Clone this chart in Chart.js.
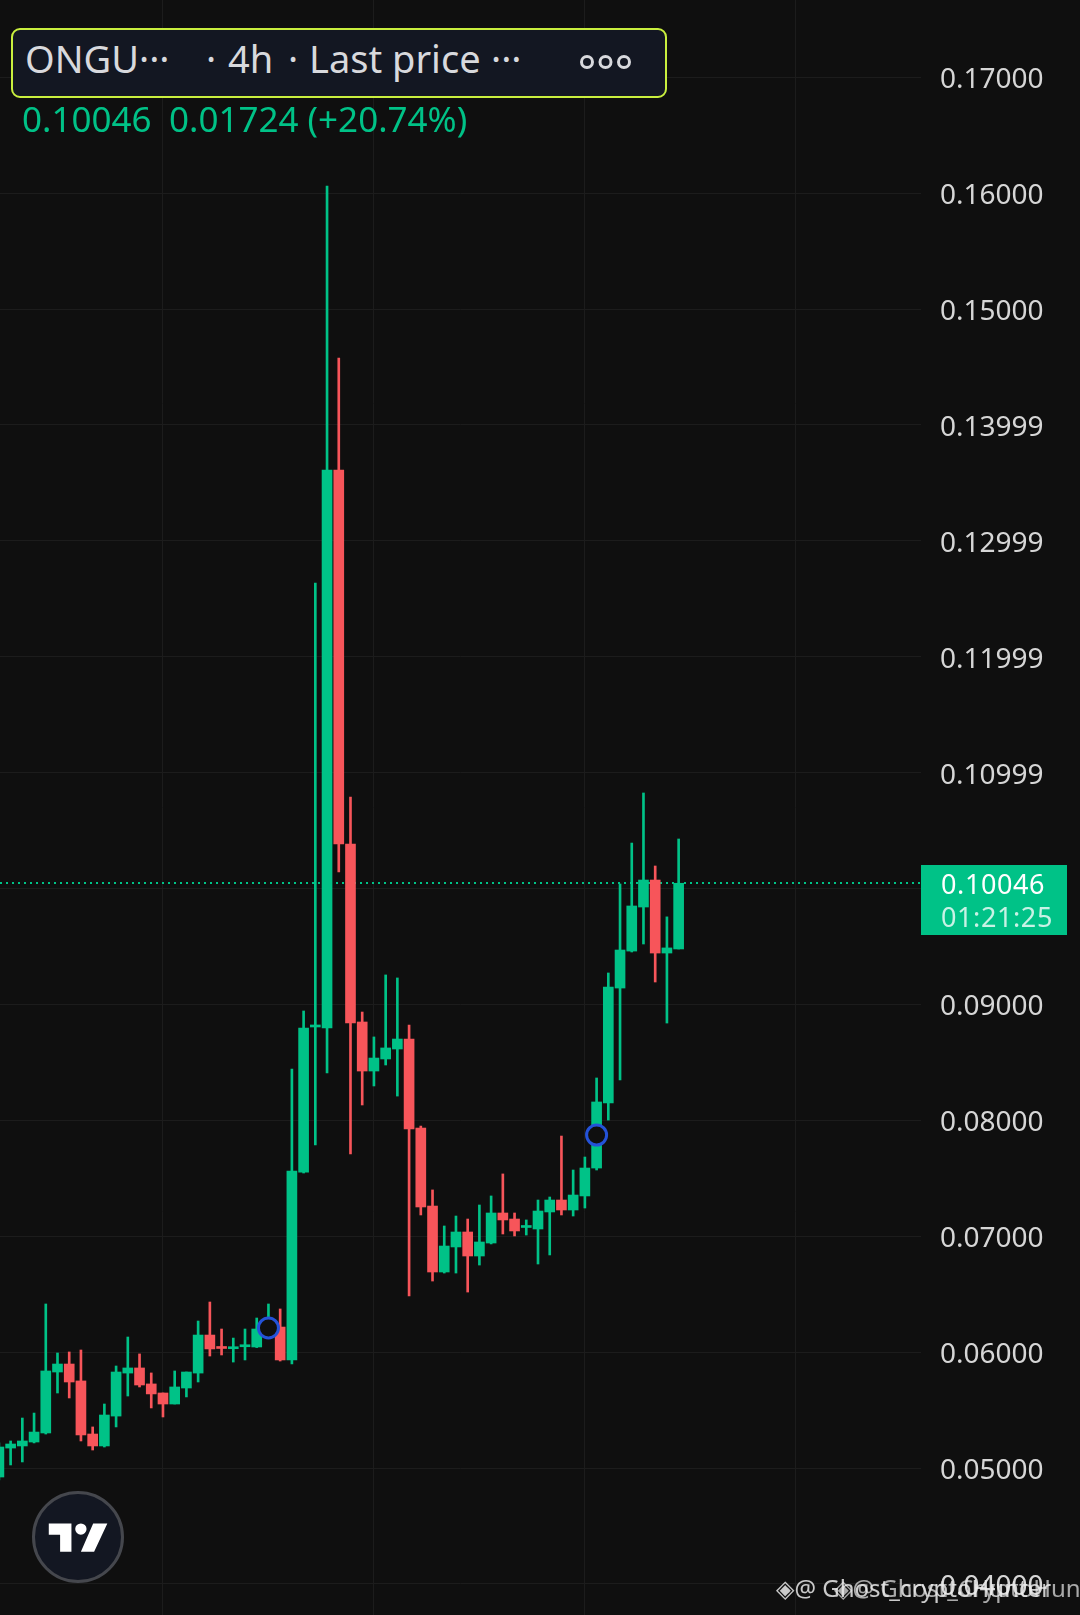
<!DOCTYPE html>
<html>
<head>
<meta charset="utf-8">
<script src="https://cdn.jsdelivr.net/npm/chart.js@4.4.1/dist/chart.umd.min.js"></script>
<style>
html,body{margin:0;padding:0;background:#0f0f0f;width:1080px;height:1615px;overflow:hidden;}
#wrap{position:absolute;left:0;top:0;width:1080px;height:1615px;}
.t{position:absolute;line-height:1;white-space:pre;font-family:"Noto Sans","DejaVu Sans",sans-serif;}
#hdr{position:absolute;left:11px;top:28px;width:656px;height:70px;box-sizing:border-box;border:2px solid #c9ef3e;border-radius:9px;background:#131722;}
#logo{position:absolute;left:32px;top:1491px;width:92px;height:92px;box-sizing:border-box;border:3px solid #45474d;border-radius:50%;background:#131722;}
</style>
</head>
<body>
<div id="wrap"><canvas id="c"></canvas></div>

<div id="hdr"></div>
<span class="t" style="left:25px;top:39px;font-size:38px;color:#d8d9dd">ONGU···</span>
<span class="t" style="left:206px;top:39px;font-size:38px;color:#d8d9dd">·</span>
<span class="t" style="left:228px;top:39px;font-size:38px;color:#d8d9dd">4h</span>
<span class="t" style="left:288px;top:39px;font-size:38px;color:#d8d9dd">·</span>
<span class="t" style="left:309px;top:39px;font-size:38px;color:#d8d9dd">Last price</span>
<span class="t" style="left:491px;top:39px;font-size:38px;color:#d8d9dd">···</span>
<svg style="position:absolute;left:578px;top:53px" width="56" height="18" viewBox="0 0 56 18">
  <g fill="none" stroke="#d8d9dd" stroke-width="3"><circle cx="9" cy="9" r="5.5"/><circle cx="27.5" cy="9" r="5.5"/><circle cx="46" cy="9" r="5.5"/></g>
</svg>
<span class="t" style="left:22px;top:101px;font-size:35px;color:#00c287">0.10046</span>
<span class="t" style="left:169px;top:101px;font-size:35px;color:#00c287">0.01724 (+20.74%)</span>

<div id="logo"></div>
<svg style="position:absolute;left:45px;top:1512px" width="68" height="53" viewBox="0 0 36 28">
  <path fill="#ffffff" d="M14 6H2v6h6v9h6V6Zm12 15h-7l6.5-15H33l-7 15Zm-7-9a3 3 0 1 0 0-6 3 3 0 0 0 0 6Z"/>
</svg>
<span class="t" style="left:776px;top:1576px;font-size:24px;color:rgba(235,235,235,0.85)">◈@ Ghost_cryptoHunter</span>
<span class="t" style="left:834px;top:1576px;font-size:24px;color:rgba(235,235,235,0.7)">◈@ Ghost_CryptoHunter</span>

<script>
// ---- data (4h candles) ----
const opens = [0.04923,0.05173,0.05191,0.05225,0.05303,0.05829,0.05898,0.05752,0.05294,0.05191,
0.05449,0.05820,0.05864,0.05726,0.05648,0.05553,0.05691,0.05820,0.06148,0.06040,
0.06030,0.06047,0.06045,0.06200,0.06217,0.05933,0.07554,0.08806,0.08797,0.13612,
0.10385,0.08849,0.08426,0.08530,0.08616,0.08702,0.07934,0.07261,0.06692,0.06908,
0.07037,0.06830,0.06942,0.07201,0.07149,0.07076,0.07063,0.07210,0.07313,0.07227,
0.07348,0.07589,0.08150,0.09142,0.09461,0.09841,0.10074,0.09444,0.09479];
const highs = [0.05217,0.05234,0.05432,0.05475,0.06416,0.05993,0.06002,0.06019,0.05355,0.05553,
0.05881,0.06131,0.05985,0.05821,0.05648,0.05838,0.05829,0.06269,0.06433,0.06200,
0.06122,0.06200,0.06295,0.06416,0.06373,0.08443,0.08944,0.12637,0.16062,0.14578,
0.10790,0.08935,0.08720,0.09255,0.09229,0.08823,0.07951,0.07400,0.07089,0.07175,
0.07149,0.07270,0.07348,0.07538,0.07201,0.07141,0.07313,0.07339,0.07865,0.07572,
0.07684,0.08366,0.09272,0.10040,0.10393,0.10825,0.10195,0.09756,0.10428];
const lows = [0.04897,0.05027,0.05053,0.05217,0.05294,0.05648,0.05605,0.05234,0.05156,0.05182,
0.05355,0.05622,0.05700,0.05519,0.05441,0.05553,0.05614,0.05743,0.05967,0.05976,
0.05915,0.05933,0.06040,0.06175,0.05924,0.05898,0.07546,0.07788,0.08409,0.10143,
0.07710,0.08133,0.08297,0.08478,0.08210,0.06485,0.07184,0.06614,0.06683,0.06683,
0.06519,0.06752,0.06934,0.07020,0.07003,0.07011,0.06761,0.06839,0.07184,0.07175,
0.07244,0.07572,0.08003,0.08349,0.09453,0.09522,0.09194,0.08840,0.09479];
const closes = [0.05182,0.05208,0.05234,0.05311,0.05838,0.05898,0.05743,0.05286,0.05191,0.05458,
0.05829,0.05864,0.05717,0.05640,0.05553,0.05700,0.05829,0.06148,0.06028,0.06032,
0.06036,0.06054,0.06200,0.06261,0.05933,0.07563,0.08797,0.08814,0.13612,0.10385,
0.08840,0.08426,0.08538,0.08625,0.08702,0.07926,0.07253,0.06692,0.06916,0.07037,
0.06830,0.06951,0.07201,0.07141,0.07046,0.07082,0.07218,0.07313,0.07227,0.07356,
0.07589,0.08159,0.09151,0.09470,0.09850,0.10074,0.09444,0.09488,0.10046];
const markerIndex = [23, 51];
const markerPrice = [0.06209, 0.07874];
const tickValues = [0.04,0.05,0.06,0.07,0.08,0.09,0.10,0.11,0.12,0.13,0.14,0.15,0.16,0.17];
const tickLabels = ['0.04000','0.05000','0.06000','0.07000','0.08000','0.09000','0.10000','0.10999','0.11999','0.12999','0.13999','0.15000','0.16000','0.17000'];
const dayLines = [14, 32, 50, 68];
const lastPriceLabel = '0.10046';
const countdownLabel = '01:21:25';

const UP = '#00c287', DOWN = '#f7555a', GRID = '#1c1c1c';
const colors = opens.map((o, i) => closes[i] >= o ? UP : DOWN);
const lastClose = closes[closes.length - 1];

const lastPricePlugin = {
  id: 'lastPrice',
  beforeDatasetsDraw(chart) {
    const {ctx, chartArea: a, scales: {y}} = chart;
    const py = Math.round(y.getPixelForValue(lastClose));
    ctx.save();
    ctx.strokeStyle = UP; ctx.lineWidth = 2; ctx.setLineDash([2, 4]);
    ctx.beginPath(); ctx.moveTo(a.left, py); ctx.lineTo(a.right, py); ctx.stroke();
    ctx.restore();
  },
  afterDraw(chart) {
    const {ctx, chartArea: a, scales: {y}} = chart;
    const py = Math.round(y.getPixelForValue(lastClose));
    ctx.save();
    ctx.fillStyle = UP;
    ctx.fillRect(a.right, py - 18, 146, 70);
    ctx.font = '27px "Noto Sans"';
    ctx.textBaseline = 'alphabetic'; ctx.textAlign = 'left';
    if ('letterSpacing' in ctx) ctx.letterSpacing = '0.6px';
    ctx.fillStyle = '#ffffff';
    ctx.fillText(lastPriceLabel, a.right + 20, py + 11);
    ctx.fillStyle = 'rgba(255,255,255,0.78)';
    ctx.fillText(countdownLabel, a.right + 20, py + 44);
    ctx.restore();
  }
};

function noPad(s) { s.paddingTop = 0; s.paddingBottom = 0; s.paddingLeft = 0; s.paddingRight = 0; }

new Chart(document.getElementById('c'), {
  type: 'bar',
  data: {
    datasets: [
      {
        type: 'scatter',
        data: markerIndex.map((x, k) => ({x: x, y: markerPrice[k]})),
        pointRadius: 10, pointHoverRadius: 10, pointBorderWidth: 3,
        pointBorderColor: '#2452d8', pointBackgroundColor: '#0f0f0f',
        order: 0
      },
      {
        data: opens.map((o, i) => ({x: i, y: [o, closes[i]]})),
        backgroundColor: colors, borderWidth: 0,
        barThickness: 10, minBarLength: 2, grouped: false, order: 1
      },
      {
        data: lows.map((l, i) => ({x: i, y: [l, highs[i]]})),
        backgroundColor: colors, borderWidth: 0,
        barThickness: 2, grouped: false, order: 2
      }
    ]
  },
  options: {
    responsive: true, maintainAspectRatio: false, animation: false, events: [],
    layout: {padding: 0, autoPadding: false},
    plugins: {legend: {display: false}, tooltip: {enabled: false}},
    scales: {
      x: {
        type: 'linear', min: 0.094, max: 78.68, offset: false,
        grid: {color: GRID, lineWidth: 1, drawTicks: false, offset: false},
        border: {display: false},
        ticks: {display: false},
        afterBuildTicks(s) { s.ticks = dayLines.map(v => ({value: v})); },
        afterFit(s) { s.height = 0; noPad(s); }
      },
      y: {
        type: 'linear', position: 'right', min: 0.037325, max: 0.176669,
        grid: {color: GRID, lineWidth: 1, drawTicks: false},
        border: {display: false},
        ticks: {
          color: '#d6d6d6', padding: 19, autoSkip: false, labelOffset: 3,
          font: {family: 'Noto Sans', size: 28},
          callback: (v, i) => tickLabels[i]
        },
        afterBuildTicks(s) { s.ticks = tickValues.map(v => ({value: v})); },
        afterFit(s) { s.width = 159; noPad(s); }
      }
    }
  },
  plugins: [lastPricePlugin]
});
</script>
</body>
</html>
